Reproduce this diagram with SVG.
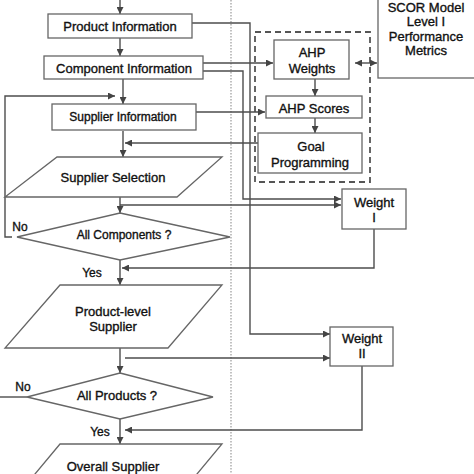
<svg xmlns="http://www.w3.org/2000/svg" width="474" height="474" viewBox="0 0 474 474">
<defs>
<marker id="ah" viewBox="0 0 10 10" refX="10" refY="5" markerWidth="7" markerHeight="7" markerUnits="userSpaceOnUse" orient="auto-start-reverse">
<path d="M0,0 L10,5 L0,10 z" fill="#444"/>
</marker>
<style>
.box{fill:#fff;stroke:#666;stroke-width:1.3}
.t{font-family:"Liberation Sans",Arial,sans-serif;font-size:13px;fill:#111;stroke:#111;stroke-width:0.35;text-anchor:middle}
.s{font-size:12px}
.c{fill:none;stroke:#4d4d4d;stroke-width:1.4}
.a{marker-end:url(#ah)}
</style>
</defs>
<rect width="474" height="474" fill="#fff"/>
<line x1="231" y1="0" x2="231" y2="474" stroke="#999" stroke-width="1.2" stroke-dasharray="1.5 1.5"/>
<rect id="ahp-group" x="255" y="32" width="115" height="150" fill="none" stroke="#555" stroke-width="1.8" stroke-dasharray="6 4"/>

<g id="connectors">
<path class="c a" d="M120,0 V14"/>
<path class="c a" d="M120,38 V56"/>
<path class="c a" d="M123,79 V104"/>
<path class="c a" d="M12,237 H5 V96 H115"/>
<path class="c a" d="M123,131 V157"/>
<path class="c a" d="M258,143 H125"/>
<path class="c a" d="M192,23 H250 V334 H330"/>
<path class="c a" d="M203,63 H273"/>
<path class="c a" d="M203,71 H243 V199 H341"/>
<path class="c a" d="M196,112 H265"/>
<path class="c a" d="M315,79 V96"/>
<path class="c a" d="M315,118 V133"/>
<path class="c a" d="M355,63 H377" marker-start="url(#ah)"/>
<path class="c a" d="M120,197 V213"/>
<path class="c a" d="M120,205 H341"/>
<path class="c a" d="M374,229 V268 H122"/>
<path class="c a" d="M120,260 V285"/>
<path class="c a" d="M120,348 V373"/>
<path class="c a" d="M125,358 H330"/>
<path class="c a" d="M362,366 V430 H125"/>
<path class="c" d="M27,397 H0"/>
<path class="c a" d="M120,419 V444"/>
</g>

<g id="product-information">
<rect class="box" x="48" y="14" width="144" height="24"/>
<text class="t" x="120" y="31">Product Information</text>
</g>
<g id="component-information">
<rect class="box" x="44" y="56" width="159" height="23"/>
<text class="t" x="124" y="72.5">Component Information</text>
</g>
<g id="supplier-information">
<rect class="box" x="52" y="104" width="144" height="26"/>
<text class="t s" x="123" y="120.5">Supplier Information</text>
</g>
<g id="supplier-selection">
<polygon class="box" points="57,157 222,157 177,197 5,197"/>
<text class="t" x="113" y="182">Supplier Selection</text>
</g>
<g id="all-components">
<polygon class="box" points="120,213 230,237 120,260 17,237"/>
<text class="t s" x="124" y="239">All Components ?</text>
<text class="t s" x="20" y="231">No</text>
<text class="t s" x="92" y="277">Yes</text>
</g>
<g id="product-level-supplier">
<polygon class="box" points="60,285 222,285 168,348 5,348"/>
<text class="t" x="113" y="316">Product-level</text>
<text class="t" x="113" y="331">Supplier</text>
</g>
<g id="all-products">
<polygon class="box" points="120,373 213,397 120,419 27,397"/>
<text class="t" x="117" y="399.5">All Products ?</text>
<text class="t s" x="23" y="391">No</text>
<text class="t s" x="100" y="436">Yes</text>
</g>
<g id="overall-supplier">
<polygon class="box" points="60,444 222,444 192,480 30,480"/>
<text class="t" x="113" y="471">Overall Supplier</text>
</g>
<g id="ahp-weights">
<rect class="box" x="274" y="40" width="75" height="39"/>
<text class="t" x="312" y="56.5">AHP</text>
<text class="t" x="312" y="72.5">Weights</text>
</g>
<g id="ahp-scores">
<rect class="box" x="266" y="96" width="96" height="22"/>
<text class="t" x="314" y="113">AHP Scores</text>
</g>
<g id="goal-programming">
<rect class="box" x="258" y="133" width="104" height="40"/>
<text class="t" x="311" y="151">Goal</text>
<text class="t" x="310" y="166.5">Programming</text>
</g>
<g id="scor-model">
<rect class="box" x="378" y="-5" width="100" height="83"/>
<text class="t" x="426" y="11.5">SCOR Model</text>
<text class="t" x="426" y="26">Level I</text>
<text class="t" x="426" y="40.5">Performance</text>
<text class="t" x="426" y="55">Metrics</text>
</g>
<g id="weight-i">
<rect class="box" x="342" y="189" width="64" height="40"/>
<text class="t" x="374" y="207">Weight</text>
<text class="t" x="374" y="222">I</text>
</g>
<g id="weight-ii">
<rect class="box" x="330" y="327" width="63" height="39"/>
<text class="t" x="362" y="343">Weight</text>
<text class="t" x="362" y="358">II</text>
</g>
</svg>
